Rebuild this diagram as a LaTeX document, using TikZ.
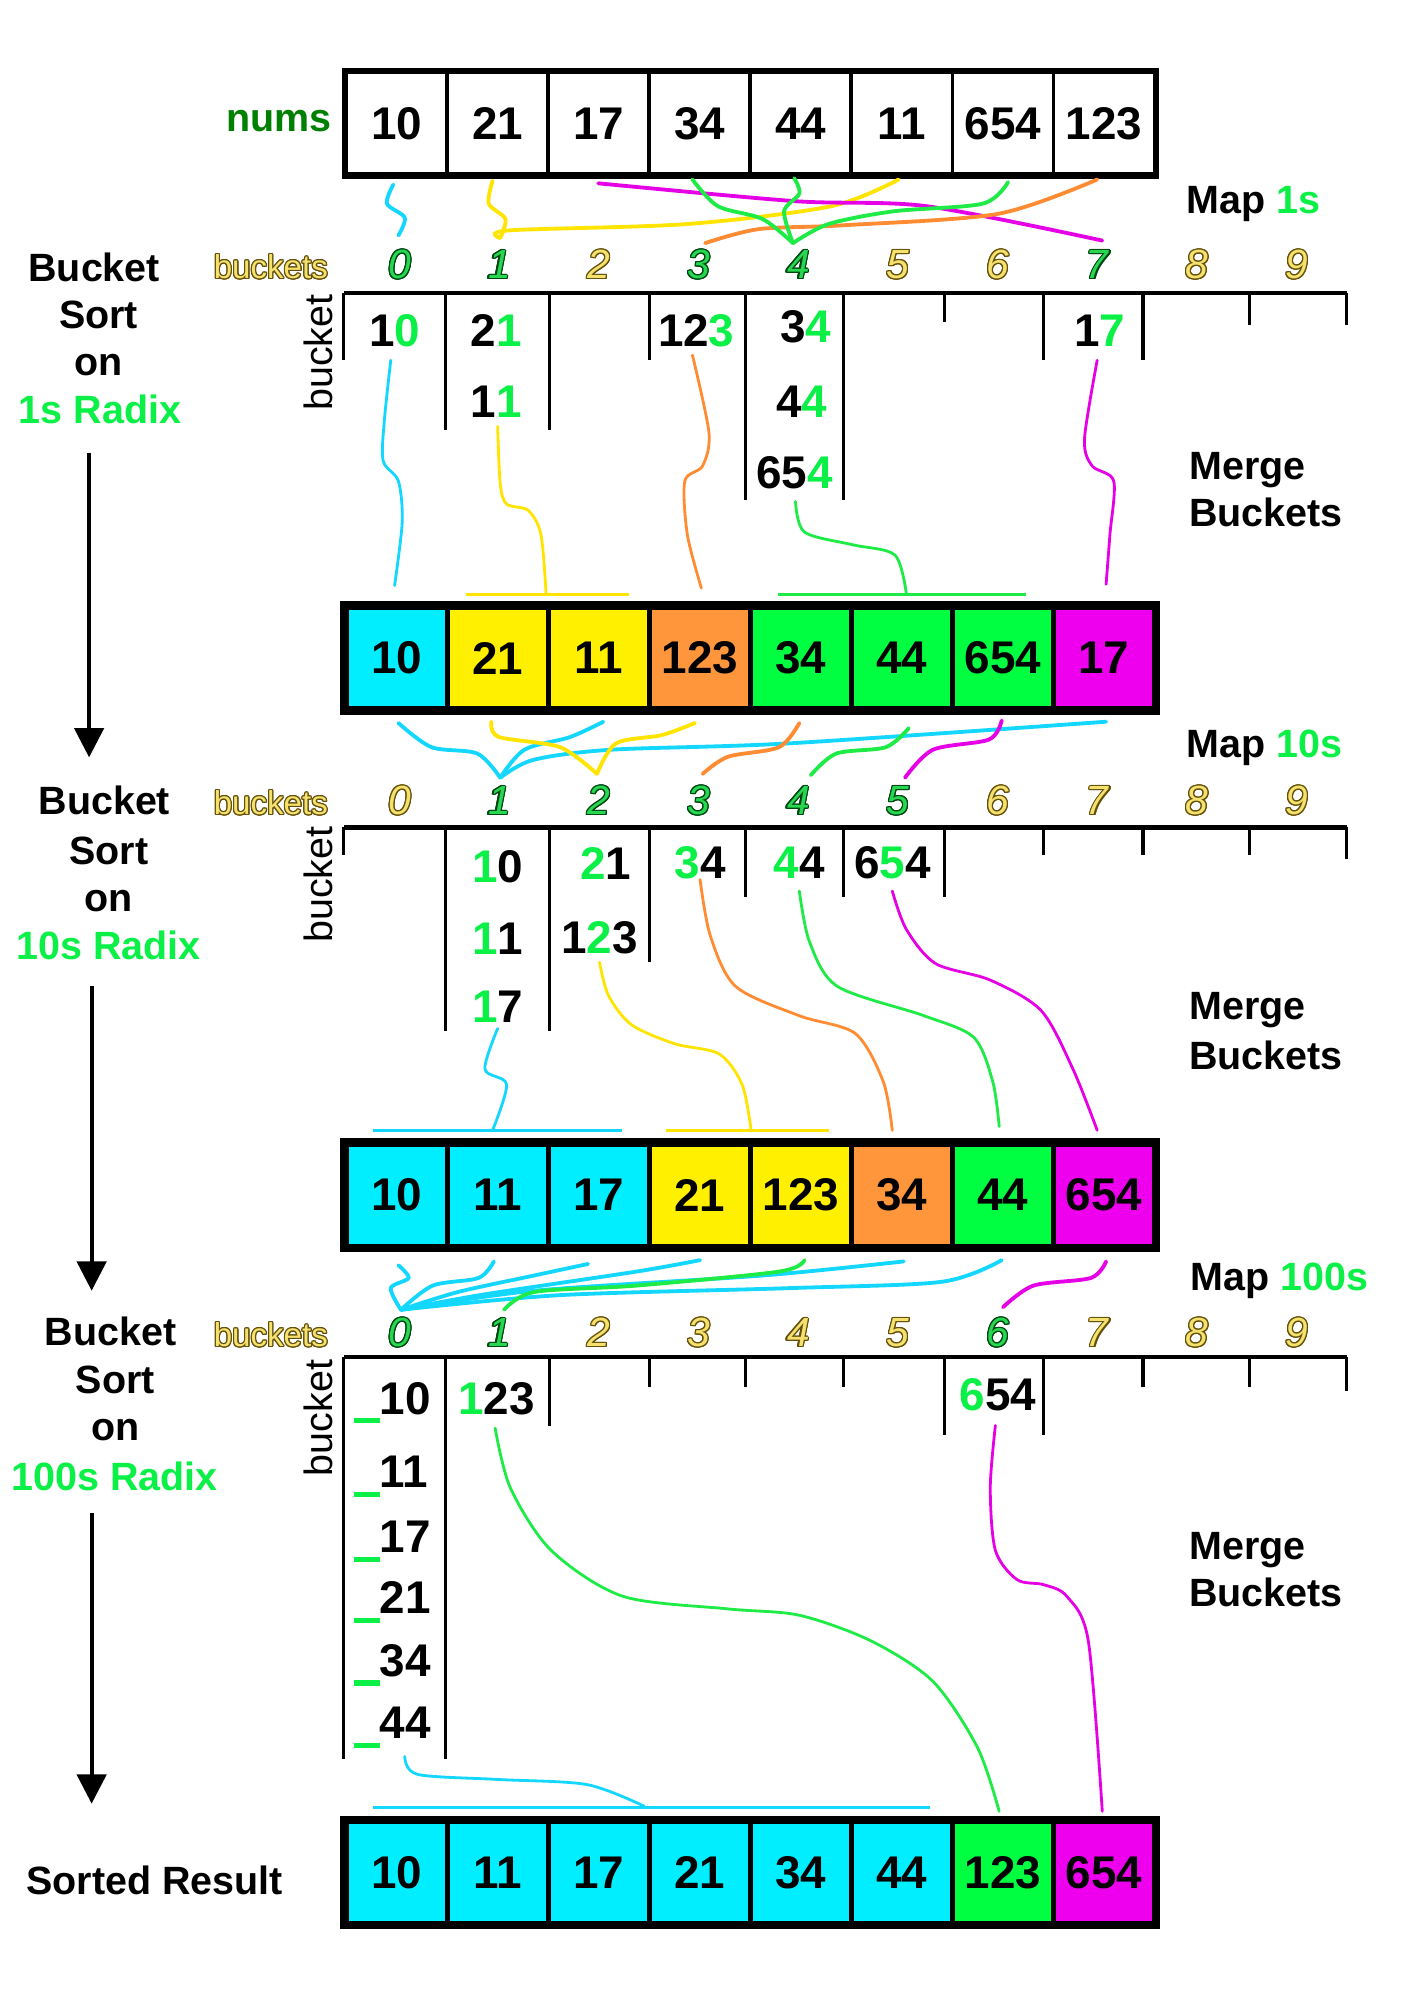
\documentclass[tikz,border=0pt]{standalone}
\usepackage{fontspec}
\setmainfont{Liberation Sans}
\usepackage{contour}
\contourlength{0.45pt}
\contournumber{16}
\usetikzlibrary{arrows.meta,calc}
\definecolor{cy}{RGB}{0,238,255}
\definecolor{ye}{RGB}{255,240,0}
\definecolor{orn}{RGB}{255,150,60}
\definecolor{gn}{RGB}{0,255,64}
\definecolor{mg}{RGB}{238,0,238}
\definecolor{lcy}{RGB}{20,215,255}
\definecolor{lye}{RGB}{255,228,0}
\definecolor{lor}{RGB}{255,140,50}
\definecolor{lgn}{RGB}{30,235,70}
\definecolor{lmg}{RGB}{230,0,230}
\definecolor{tgn}{RGB}{10,240,70}
\definecolor{dgn}{RGB}{0,128,0}
\definecolor{goldf}{RGB}{245,225,110}
\definecolor{goldo}{RGB}{100,80,10}
\definecolor{grnf}{RGB}{40,215,80}
\definecolor{grno}{RGB}{0,70,20}
\newcommand\dlaby[1]{\textcolor{goldf}{\contour{goldo}{#1}}}
\newcommand\dlabg[1]{\textcolor{grnf}{\contour{grno}{#1}}}
\newcommand\hg[1]{\textcolor{tgn}{#1}}
\newcommand\gdash{\textcolor{tgn}{\rule[-3.6pt]{10pt}{2pt}}}
\tikzset{
 numfont/.style={font=\fontsize{18}{18}\selectfont\bfseries},
 wcell/.style={numfont, draw=black, line width=1.5pt, minimum width=39.69pt, minimum height=40pt, inner sep=0pt, fill=white},
 ccell/.style={numfont, draw=black, line width=2pt, minimum width=39.69pt, minimum height=40pt, inner sep=0pt},
 lab/.style={font=\fontsize{15.5}{15.5}\selectfont\bfseries, inner sep=0pt},
 blab/.style={font=\fontsize{13}{13}\selectfont, inner sep=0pt},
 rlab/.style={font=\fontsize{15.5}{15.5}\selectfont, inner sep=0pt, rotate=90, anchor=base},
 dig/.style={font=\fontsize{16}{16}\selectfont\itshape, inner sep=0pt, anchor=base},
 bitem/.style={numfont, inner sep=0pt, anchor=base},
 bsep/.style={line width=1.2pt},
 baxis/.style={line width=1.7pt},
 mapc/.style={line width=1.5pt, line cap=round},
 merc/.style={line width=1.1pt, line cap=round},
 bline/.style={line width=1.4pt},
 downarrow/.style={line width=1.5pt, -{Triangle[width=11.5pt,length=11.5pt]}},
}
\begin{document}
\begin{tikzpicture}[x=0.5pt,y=-0.5pt]
\useasboundingbox (0,0) rectangle (1100,1576);
\fill[white] (0,0) rectangle (1100,1576);

% ---------- nums array ----------
\foreach \v [count=\i from 0] in {10,21,17,34,44,11,654,123}
  \node[wcell] (n\i) at ({311.69+79.375*\i},97) {\v};
\draw[line width=2pt] (n0.north west) rectangle (n7.south east);
\node[lab, anchor=base east, text=dgn] (numsl) at (261,103) {nums};

% ---------- section 1 ----------
\node[lab, anchor=base west] (map1) at (932,168) {Map \hg{1s}};
\node[lab, anchor=base] (l1a) at (74,221) {Bucket};
\node[lab, anchor=base] (l1b) at (77.5,258) {Sort};
\node[lab, anchor=base] (l1c) at (77.5,295) {on};
\node[lab, anchor=base, text=tgn] (l1d) at (78.5,333) {1s Radix};
\node[blab, anchor=base east] (bk1) at (258,219) {\dlaby{buckets}};
\node[rlab] (rb1) at (261,277) {bucket};
\foreach \k/\s in {0/g,1/g,2/y,3/g,4/g,5/y,6/y,7/g,8/y,9/y}
  \node[dig] (dA\k) at ({314+78.3*\k},219) {\csname dlab\s\endcsname{\k}};
\draw[baxis] (270,230) -- (1058,230);
\foreach \x/\b in {270/283,350/338,432/338,510/283,586/393,663/393,742/253,820/283,898/283,982/255,1058/255}
  \draw[bsep] (\x,230) -- (\x,\b);
\node[bitem] (a0) at (310,272) {1\hg{0}};
\node[bitem] (a1) at (390,272) {2\hg{1}};
\node[bitem] (a2) at (390,328) {1\hg{1}};
\node[bitem] (a3) at (547,272) {12\hg{3}};
\node[bitem] (a4) at (633,269) {3\hg{4}};
\node[bitem] (a5) at (630,328) {4\hg{4}};
\node[bitem] (a6) at (624,384) {65\hg{4}};
\node[bitem] (a7) at (864,272) {1\hg{7}};
\node[lab, anchor=base west] (mg1a) at (934,377) {Merge};
\node[lab, anchor=base west] (mg1b) at (934,414) {Buckets};

% map 1s curves
\draw[mapc, lcy] plot[smooth] coordinates {(309,145) (304,160) (318,171) (313,185)};
\draw[mapc, lye] plot[smooth] coordinates {(387,142) (384,160) (397,172) (393,187)};
\draw[mapc, lye] plot[smooth] coordinates {(706,141) (653,162) (540,176) (400,181) (393,187)};
\draw[mapc, lmg] plot[smooth] coordinates {(470,144) (624,158) (728,162) (866,189)};
\draw[mapc, lor] plot[smooth] coordinates {(862,141) (784,168) (662,177) (596,180) (554,191)};
\draw[mapc, lgn] plot[smooth] coordinates {(544,141) (564,162) (599,172) (623,191)};
\draw[mapc, lgn] plot[smooth] coordinates {(624,140) (628,152) (616,166) (623,191)};
\draw[mapc, lgn] plot[smooth] coordinates {(792,143) (772,160) (702,166) (651,176) (623,191)};

% merge 1 curves
\draw[merc, lcy] plot[smooth] coordinates {(307,283) (302,330) (301,362) (313,378) (316,410) (310,460)};
\draw[merc, lye] plot[smooth] coordinates {(391,335) (393,380) (398,396) (415,401) (425,420) (429,466)};
\draw[bline, lye] (366,467) -- (494,467);
\draw[merc, lor] plot[smooth] coordinates {(544,279) (557,340) (552,366) (538,378) (540,420) (551,462)};
\draw[merc, lgn] plot[smooth] coordinates {(625,394) (632,418) (670,428) (703,436) (712,466)};
\draw[bline, lgn] (611,467) -- (806,467);
\draw[merc, lmg] plot[smooth] coordinates {(862,283) (852,345) (858,366) (875,378) (872,420) (869,459)};

% merged array 1
\fill[black!65] (275,481) rectangle (910,561);
\foreach \v/\c [count=\i from 0] in {10/cy,21/ye,11/ye,123/orn,34/gn,44/gn,654/gn,17/mg}
  \node[ccell, fill=\c] (m\i) at ({311.69+79.375*\i},517) {\v};
\draw[line width=2.6pt] (m0.north west) rectangle (m7.south east);

% ---------- section 2 ----------
\node[lab, anchor=base west] (map2) at (932,595) {Map \hg{10s}};
\node[lab, anchor=base] (l2a) at (82,640) {Bucket};
\node[lab, anchor=base] (l2b) at (85.5,679) {Sort};
\node[lab, anchor=base] (l2c) at (85.5,716) {on};
\node[lab, anchor=base, text=tgn] (l2d) at (85.5,754) {10s Radix};
\node[blab, anchor=base east] (bk2) at (258,640) {\dlaby{buckets}};
\node[rlab] (rb2) at (261,695) {bucket};
\foreach \k/\s in {0/y,1/g,2/g,3/g,4/g,5/g,6/y,7/y,8/y,9/y}
  \node[dig] (dB\k) at ({314+78.3*\k},640) {\csname dlab\s\endcsname{\k}};
\draw[baxis] (270,650) -- (1058,650);
\foreach \x/\b in {270/672,350/810,432/810,510/756,586/705,663/705,742/705,820/672,898/672,982/672,1058/675}
  \draw[bsep] (\x,650) -- (\x,\b);
\node[bitem] (b0) at (391,693) {\hg{1}0};
\node[bitem] (b1) at (391,750) {\hg{1}1};
\node[bitem] (b2) at (391,803) {\hg{1}7};
\node[bitem] (b3) at (476,691) {\hg{2}1};
\node[bitem] (b4) at (471,749) {1\hg{2}3};
\node[bitem] (b5) at (550,690) {\hg{3}4};
\node[bitem] (b6) at (628,690) {\hg{4}4};
\node[bitem] (b7) at (701,690) {6\hg{5}4};
\node[lab, anchor=base west] (mg2a) at (934,801) {Merge};
\node[lab, anchor=base west] (mg2b) at (934,840) {Buckets};

% map 10s curves
\draw[mapc, lcy] plot[smooth] coordinates {(869,567) (620,584) (480,589) (419,597) (393,611)};
\draw[mapc, lcy] plot[smooth] coordinates {(313,568) (339,587) (375,592) (393,611)};
\draw[mapc, lcy] plot[smooth] coordinates {(474,567) (448,579) (412,589) (393,611)};
\draw[mapc, lye] plot[smooth] coordinates {(386,567) (392,579) (440,587) (469,608)};
\draw[mapc, lye] plot[smooth] coordinates {(546,568) (520,577.5) (484,584) (469,608)};
\draw[mapc, lor] plot[smooth] coordinates {(628,568) (612,587) (572,594.5) (552,608)};
\draw[mapc, lgn] plot[smooth] coordinates {(714,572) (696,587) (657,592) (637,609)};
\draw[mapc, lmg] plot[smooth] coordinates {(787,566) (777,581) (733,589) (711,611)};

% merge 2 curves
\draw[merc, lcy] plot[smooth] coordinates {(391,808) (381,840) (398,852) (387,888)};
\draw[bline, lcy] (293,888) -- (489,888);
\draw[merc, lye] plot[smooth] coordinates {(471,756) (478,782) (496,805) (530,820) (565,828) (583,852) (590,887)};
\draw[bline, lye] (523,888) -- (651,888);
\draw[merc, lor] plot[smooth] coordinates {(550,691) (558,735) (578,775) (628,798) (672,812) (694,850) (701,888)};
\draw[merc, lgn] plot[smooth] coordinates {(628,700) (636,740) (658,775) (726,798) (765,815) (780,850) (785,885)};
\draw[merc, lmg] plot[smooth] coordinates {(701,700) (712,730) (735,757) (778,770) (818,794) (843,840) (862,888)};

% merged array 2
\fill[black!65] (275,903) rectangle (910,983);
\foreach \v/\c [count=\i from 0] in {10/cy,11/cy,17/cy,21/ye,123/ye,34/orn,44/gn,654/mg}
  \node[ccell, fill=\c] (p\i) at ({311.69+79.375*\i},939) {\v};
\draw[line width=2.6pt] (p0.north west) rectangle (p7.south east);

% ---------- section 3 ----------
\node[lab, anchor=base west] (map3) at (935,1014) {Map \hg{100s}};
\node[lab, anchor=base] (l3a) at (87,1057) {Bucket};
\node[lab, anchor=base] (l3b) at (90.7,1095) {Sort};
\node[lab, anchor=base] (l3c) at (90.7,1132) {on};
\node[lab, anchor=base, text=tgn] (l3d) at (90,1171) {100s Radix};
\node[blab, anchor=base east] (bk3) at (258,1058) {\dlaby{buckets}};
\node[rlab] (rb3) at (261,1114) {bucket};
\foreach \k/\s in {0/g,1/g,2/y,3/y,4/y,5/y,6/g,7/y,8/y,9/y}
  \node[dig] (dC\k) at ({314+78.3*\k},1058) {\csname dlab\s\endcsname{\k}};
\draw[baxis] (270,1066) -- (1058,1066);
\foreach \x/\b in {270/1382,350/1382,432/1120,510/1090,586/1090,663/1090,742/1127,820/1127,898/1090,982/1090,1058/1093}
  \draw[bsep] (\x,1066) -- (\x,\b);
\foreach \v/\y [count=\i from 0] in {10/1111,11/1169,17/1220,21/1268,34/1317,44/1366}
  \node[bitem, anchor=base west] (c\i) at (278,\y) {\gdash\v};
\node[bitem] (c6) at (390,1111) {\hg{1}23};
\node[bitem] (c7) at (784,1108) {\hg{6}54};
\node[lab, anchor=base west] (mg3a) at (934,1225) {Merge};
\node[lab, anchor=base west] (mg3b) at (934,1262.5) {Buckets};

% map 100s curves
\draw[mapc, lcy] plot[smooth] coordinates {(313,994) (321,1004) (307,1012) (315,1029)};
\draw[mapc, lcy] plot[smooth] coordinates {(388,991) (376,1004) (340,1010) (315,1029)};
\draw[mapc, lcy] plot[smooth] coordinates {(462,993) (420,1002) (360,1015) (315,1029)};
\draw[mapc, lcy] plot[smooth] coordinates {(550,990) (500,999) (380,1017) (315,1029)};
\draw[mapc, lcy] plot[smooth] coordinates {(710,991) (600,1002) (420,1014) (315,1029)};
\draw[mapc, lcy] plot[smooth] coordinates {(787,990) (740,1007) (620,1012) (440,1017.5) (315,1029)};
\draw[mapc, lgn] plot[smooth] coordinates {(632,990) (612,999) (500,1010) (420,1015) (396,1029)};
\draw[mapc, lmg] plot[smooth] coordinates {(869,991) (857,1004) (812,1010) (788,1027)};

% merge 3 curves
\draw[merc, lcy] plot[smooth] coordinates {(318,1380) (328,1394) (391,1398) (461,1402) (506,1419)};
\draw[bline, lcy] (293,1420) -- (731,1420);
\draw[merc, lgn] plot[smooth] coordinates {(389,1122) (401,1169) (433,1218) (489,1254) (572,1264) (628,1269) (684,1289) (733,1321) (768,1373) (785,1423)};
\draw[merc, lmg] plot[smooth] coordinates {(782,1120) (778,1169) (782,1218) (799,1241) (820,1245) (838,1254) (855,1289) (866,1423)};

% sorted array
\fill[black!65] (275,1435) rectangle (910,1515);
\foreach \v/\c [count=\i from 0] in {10/cy,11/cy,17/cy,21/cy,34/cy,44/cy,123/gn,654/mg}
  \node[ccell, fill=\c] (s\i) at ({311.69+79.375*\i},1471) {\v};
\draw[line width=2.6pt] (s0.north west) rectangle (s7.south east);
\node[lab, anchor=base] (sres) at (121.5,1488) {Sorted Result};

% flow arrows
\coordinate (f1a) at (70,356); \coordinate (f1b) at (70,595);
\coordinate (f2a) at (72,775); \coordinate (f2b) at (72,1014);
\coordinate (f3a) at (72,1189); \coordinate (f3b) at (72,1417);
\draw[downarrow] (f1a) -- (f1b);
\draw[downarrow] (f2a) -- (f2b);
\draw[downarrow] (f3a) -- (f3b);
\end{tikzpicture}
\end{document}
